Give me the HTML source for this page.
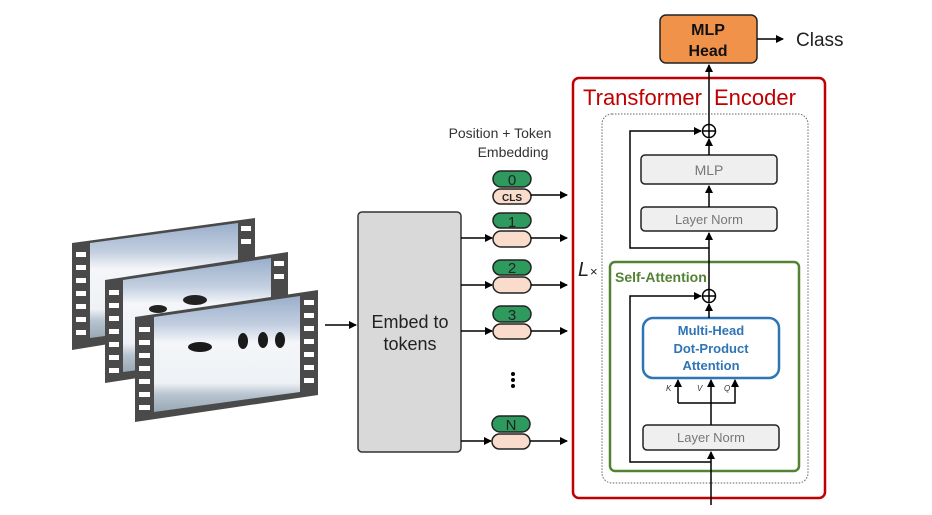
<!DOCTYPE html>
<html><head><meta charset="utf-8"><style>
html,body{margin:0;padding:0;background:#fff;}
svg{display:block;font-family:"Liberation Sans",sans-serif;}
</style></head><body>
<svg width="932" height="515" viewBox="0 0 932 515" xmlns="http://www.w3.org/2000/svg">
<defs>
<marker id="a" markerWidth="8" markerHeight="8" refX="7" refY="4" orient="auto" markerUnits="userSpaceOnUse">
<path d="M0,0 L8,4 L0,8 z" fill="#000"/></marker>
<linearGradient id="img" x1="0" y1="0" x2="0" y2="1">
<stop offset="0" stop-color="#9aaecb"/><stop offset="0.25" stop-color="#c3cfe0"/>
<stop offset="0.4" stop-color="#f4f6f9"/><stop offset="0.75" stop-color="#eef1f5"/><stop offset="0.85" stop-color="#b8c4cf"/><stop offset="1" stop-color="#98a8b6"/></linearGradient>
</defs>

<g>
<polygon points="72,243 255,218 255,320 72,350" fill="#4a4a4a"/>
<polygon points="90,243 238,223 238,318 90,338" fill="url(#img)"/>
<polygon points="105,280 288,252 288,355 105,383" fill="#4a4a4a"/>
<polygon points="123,280 271,258 271,352 123,372" fill="url(#img)"/>
<ellipse cx="195" cy="300" rx="12" ry="5" fill="#222"/><ellipse cx="158" cy="309" rx="9" ry="4" fill="#222"/>
<polygon points="135,317 318,290 318,395 135,422" fill="#4a4a4a"/>
<polygon points="154,317 300,296 300,392 154,412" fill="url(#img)"/>
<ellipse cx="200" cy="347" rx="12" ry="5" fill="#1a1a1a"/>
<ellipse cx="243" cy="341" rx="5" ry="8" fill="#1a1a1a"/><ellipse cx="263" cy="340" rx="5" ry="8" fill="#1a1a1a"/><ellipse cx="280" cy="340" rx="5" ry="8" fill="#1a1a1a"/>
</g>
<g fill="#fff">
<rect x="76" y="252" width="10" height="5"/><rect x="76" y="265" width="10" height="5"/><rect x="76" y="278" width="10" height="5"/><rect x="76" y="291" width="10" height="5"/><rect x="76" y="304" width="10" height="5"/><rect x="76" y="317" width="10" height="5"/><rect x="76" y="330" width="10" height="5"/>
<rect x="241" y="226" width="10" height="5"/><rect x="241" y="239" width="10" height="5"/>
<rect x="109" y="290" width="10" height="5"/><rect x="109" y="303" width="10" height="5"/><rect x="109" y="316" width="10" height="5"/><rect x="109" y="329" width="10" height="5"/><rect x="109" y="342" width="10" height="5"/><rect x="109" y="355" width="10" height="5"/><rect x="109" y="368" width="10" height="5"/>
<rect x="274" y="261" width="10" height="5"/><rect x="274" y="274" width="10" height="5"/>
<rect x="139" y="327" width="11" height="5"/><rect x="139" y="340" width="11" height="5"/><rect x="139" y="353" width="11" height="5"/><rect x="139" y="366" width="11" height="5"/><rect x="139" y="379" width="11" height="5"/><rect x="139" y="392" width="11" height="5"/><rect x="139" y="405" width="11" height="5"/>
<rect x="304" y="300" width="10" height="5"/><rect x="304" y="313" width="10" height="5"/><rect x="304" y="326" width="10" height="5"/><rect x="304" y="339" width="10" height="5"/><rect x="304" y="352" width="10" height="5"/><rect x="304" y="365" width="10" height="5"/><rect x="304" y="378" width="10" height="5"/>
</g>

<line x1="325" y1="325" x2="356" y2="325" stroke="#000" stroke-width="1.5" marker-end="url(#a)"/>

<rect x="358" y="212" width="103" height="240" rx="4" fill="#d9d9d9" stroke="#333" stroke-width="1.5"/>
<text x="410" y="328" font-size="18" text-anchor="middle" fill="#222">Embed to</text>
<text x="410" y="350" font-size="18" text-anchor="middle" fill="#222">tokens</text>

<text x="500" y="138" font-size="14" text-anchor="middle" fill="#333">Position + Token</text>
<text x="513" y="157" font-size="14" text-anchor="middle" fill="#333">Embedding</text>

<g stroke="#222" stroke-width="1.5">
<rect x="493" y="171" width="38" height="16" rx="8" fill="#2e9a5e"/>
<rect x="493" y="189" width="38" height="15" rx="7.5" fill="#f9dccb"/>
<rect x="493" y="213" width="38" height="15" rx="7.5" fill="#2e9a5e"/>
<rect x="493" y="231" width="38" height="16" rx="8" fill="#f9dccb"/>
<rect x="493" y="260" width="38" height="15" rx="7.5" fill="#2e9a5e"/>
<rect x="493" y="277" width="38" height="16" rx="8" fill="#f9dccb"/>
<rect x="493" y="306" width="38" height="16" rx="8" fill="#2e9a5e"/>
<rect x="493" y="324" width="38" height="15" rx="7.5" fill="#f9dccb"/>
<rect x="492" y="416" width="38" height="16" rx="8" fill="#2e9a5e"/>
<rect x="492" y="434" width="38" height="15" rx="7.5" fill="#f9dccb"/>
</g>
<g font-size="15" text-anchor="middle" fill="#222">
<text x="512" y="185">0</text><text x="512" y="227">1</text><text x="512" y="273">2</text><text x="512" y="320">3</text><text x="511" y="430">N</text>
</g>
<text x="512" y="201" font-size="10" font-weight="bold" text-anchor="middle" fill="#222">CLS</text>
<g fill="#000"><circle cx="513" cy="374" r="2"/><circle cx="513" cy="380" r="2"/><circle cx="513" cy="386" r="2"/></g>

<g stroke="#000" stroke-width="1.5" marker-end="url(#a)">
<line x1="531" y1="195" x2="567" y2="195"/>
<line x1="461" y1="238" x2="492" y2="238"/><line x1="531" y1="238" x2="567" y2="238"/>
<line x1="461" y1="285" x2="492" y2="285"/><line x1="531" y1="285" x2="567" y2="285"/>
<line x1="461" y1="331" x2="492" y2="331"/><line x1="531" y1="331" x2="567" y2="331"/>
<line x1="461" y1="441" x2="491" y2="441"/><line x1="530" y1="441" x2="567" y2="441"/>
</g>

<rect x="573" y="78" width="252" height="420" rx="6" fill="none" stroke="#c00000" stroke-width="2.5"/>
<rect x="580" y="84" width="126" height="28" fill="#fff"/>
<rect x="714" y="84" width="80" height="28" fill="#fff"/>
<text x="583" y="105" font-size="22" fill="#c00000">Transformer</text>
<text x="714" y="105" font-size="22" fill="#c00000">Encoder</text>
<rect x="602" y="114" width="206" height="369" rx="10" fill="none" stroke="#666" stroke-width="1" stroke-dasharray="1.5,1.5"/>
<text x="578" y="276" font-size="20" font-style="italic" fill="#222">L</text>
<text x="590" y="276" font-size="13" fill="#222">×</text>

<rect x="610" y="262" width="189" height="209" rx="5" fill="none" stroke="#548235" stroke-width="2.5"/>
<text x="615" y="282" font-size="14" font-weight="bold" fill="#548235">Self-Attention</text>

<rect x="641" y="155" width="136" height="29" rx="4" fill="#efefef" stroke="#222" stroke-width="1.5"/>
<text x="709" y="175" font-size="14" text-anchor="middle" fill="#777">MLP</text>
<rect x="641" y="207" width="136" height="24" rx="4" fill="#efefef" stroke="#222" stroke-width="1.5"/>
<text x="709" y="224" font-size="13" text-anchor="middle" fill="#777">Layer Norm</text>
<rect x="643" y="425" width="136" height="25" rx="4" fill="#efefef" stroke="#222" stroke-width="1.5"/>
<text x="711" y="442" font-size="13" text-anchor="middle" fill="#777">Layer Norm</text>

<rect x="643" y="318" width="136" height="60" rx="10" fill="#fff" stroke="#2e75b6" stroke-width="2.5"/>
<g font-size="13" font-weight="bold" text-anchor="middle" fill="#2e75b6">
<text x="711" y="335">Multi-Head</text><text x="711" y="353">Dot-Product</text><text x="711" y="370">Attention</text></g>

<g stroke="#000" stroke-width="1.5" fill="none">
<line x1="711" y1="505" x2="711" y2="452" marker-end="url(#a)"/>
<polyline points="711,462 630,462 630,296 701,296" marker-end="url(#a)"/>
<line x1="711" y1="425" x2="711" y2="380" marker-end="url(#a)"/>
<polyline points="678,403 678,380" marker-end="url(#a)"/>
<polyline points="678,403 735,403 735,380" marker-end="url(#a)"/>
<line x1="709" y1="318" x2="709" y2="304" marker-end="url(#a)"/>
<line x1="709" y1="290" x2="709" y2="233" marker-end="url(#a)"/>
<polyline points="709,248 630,248 630,131 701,131" marker-end="url(#a)"/>
<line x1="709" y1="207" x2="709" y2="186" marker-end="url(#a)"/>
<line x1="709" y1="155" x2="709" y2="139" marker-end="url(#a)"/>
<line x1="709" y1="125" x2="709" y2="65" marker-end="url(#a)"/>
<circle cx="709" cy="131" r="6.5" fill="#fff"/>
<line x1="703" y1="131" x2="715" y2="131"/><line x1="709" y1="125" x2="709" y2="137"/>
<circle cx="709" cy="296" r="6.5" fill="#fff"/>
<line x1="703" y1="296" x2="715" y2="296"/><line x1="709" y1="290" x2="709" y2="302"/>
</g>
<g font-size="8" font-style="italic" fill="#333"><text x="666" y="391">K</text><text x="697" y="391">V</text><text x="724" y="391">Q</text></g>

<rect x="660" y="15" width="97" height="48" rx="6" fill="#f0924a" stroke="#222" stroke-width="1.5"/>
<text x="708" y="35" font-size="16" font-weight="bold" text-anchor="middle" fill="#111">MLP</text>
<text x="708" y="56" font-size="16" font-weight="bold" text-anchor="middle" fill="#111">Head</text>
<line x1="757" y1="39" x2="783" y2="39" stroke="#000" stroke-width="1.5" marker-end="url(#a)"/>
<text x="796" y="46" font-size="19" fill="#222">Class</text>
</svg>
</body></html>
